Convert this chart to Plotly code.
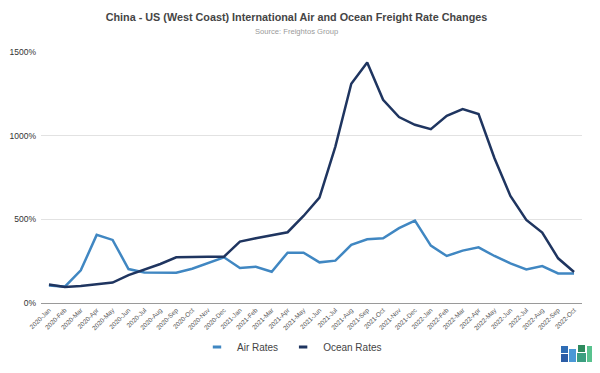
import plotly.graph_objects as go

months = ["2020-Jan", "2020-Feb", "2020-Mar", "2020-Apr", "2020-May", "2020-Jun",
          "2020-Jul", "2020-Aug", "2020-Sep", "2020-Oct", "2020-Nov", "2020-Dec",
          "2021-Jan", "2021-Feb", "2021-Mar", "2021-Apr", "2021-May", "2021-Jun",
          "2021-Jul", "2021-Aug", "2021-Sep", "2021-Oct", "2021-Nov", "2021-Dec",
          "2022-Jan", "2022-Feb", "2022-Mar", "2022-Apr", "2022-May", "2022-Jun",
          "2022-Jul", "2022-Aug", "2022-Sep", "2022-Oct"]

air_rates = [105, 98, 195, 407, 377, 203, 183, 183, 181, 205, 241, 273,
             209, 217, 187, 301, 301, 243, 253, 347, 381, 387, 447, 493,
             343, 281, 313, 333, 281, 237, 201, 221, 177, 177]

ocean_rates = [110, 96, 102, 112, 122, 167, 201, 233, 273, 277, 277, 277,
               367, 387, 403, 423, 520, 630, 935, 1310, 1437, 1214, 1111, 1065,
               1039, 1119, 1159, 1129, 865, 640, 496, 421, 267, 185]

y_ticks = [0, 500, 1000, 1500]
y_tick_labels = ["0%", "500%", "1000%", "1500%"]

AIR_COLOR = "#4087c2"
OCEAN_COLOR = "#1f3560"
FONT = "Liberation Sans, Arial, sans-serif"

fig = go.Figure()
fig.add_trace(go.Scatter(x=months, y=air_rates, mode="lines", name="Air Rates",
                         line=dict(color=AIR_COLOR, width=2.5), showlegend=False))
fig.add_trace(go.Scatter(x=months, y=ocean_rates, mode="lines", name="Ocean Rates",
                         line=dict(color=OCEAN_COLOR, width=2.5), showlegend=False))
# legend entries with short dash symbols
for name, col in [("Air Rates", AIR_COLOR), ("Ocean Rates", OCEAN_COLOR)]:
    fig.add_trace(go.Scatter(x=[None], y=[None], mode="markers", name=name,
                             marker=dict(symbol="line-ew", size=6,
                                         line=dict(color=col, width=3))))

# the page body adds an 8px offset, so the figure is drawn 8px smaller
OFF = 8
W, H = 600 - OFF, 373 - OFF
L, R, T, B = 33, 18, 44, 70
pw, ph = W - L - R, H - T - B

def px2paper(x, y):
    # screen pixel -> paper coordinates
    return (x - OFF - L) / pw, (H - B - (y - OFF)) / ph

logo_blocks = [
    (561, 346, 568, 353, "#2f6db5"),
    (561, 354, 568, 362, "#2c5da6"),
    (569, 349, 576, 362, "#4a98d6"),
    (577, 353, 586, 362, "#3b9e80"),
    (578, 345, 585, 352, "#2f8a5e"),
    (587, 346, 593, 362, "#58c28e"),
]
shapes = []
for x0, y0, x1, y1, c in logo_blocks:
    a0, b0 = px2paper(x0, y1)
    a1, b1 = px2paper(x1, y0)
    shapes.append(dict(type="rect", xref="paper", yref="paper", x0=a0, x1=a1,
                       y0=b0, y1=b1, fillcolor=c, line=dict(width=0)))

sx, sy = px2paper(296.5, 31)
lx, ly = px2paper(292, 347)

fig.update_layout(
    width=W, height=H,
    margin=dict(l=L, r=R, t=T, b=B, autoexpand=False),
    paper_bgcolor="white", plot_bgcolor="white",
    font=dict(family=FONT, color="#444"),
    title=dict(text="<b>China - US (West Coast) International Air and Ocean Freight Rate Changes</b>",
               x=(296.5 - OFF) / W, xref="container", y=1 - (17 - OFF) / H, yref="container",
               xanchor="center", yanchor="middle",
               font=dict(size=10.8, color="#454545", family=FONT)),
    annotations=[dict(text="Source: Freightos Group", xref="paper", yref="paper",
                      x=sx, y=sy, xanchor="center", yanchor="middle",
                      showarrow=False, font=dict(size=7.6, color="#9a9a9a", family=FONT))],
    xaxis=dict(type="category", range=[-0.5, len(months) - 0.5], showgrid=False,
               showline=True, linecolor="#9a9a9a", linewidth=1, ticks="",
               tickangle=-45, tickfont=dict(size=6.4, color="#555")),
    yaxis=dict(range=[0, 1500], tickvals=y_ticks, ticktext=y_tick_labels,
               showgrid=True, gridcolor="#e2e2e2", gridwidth=1, zeroline=False,
               ticks="", tickfont=dict(size=8.5, color="#333"), ticklabelstandoff=4),
    legend=dict(orientation="h", x=lx, xanchor="center", y=ly,
                yanchor="middle", font=dict(size=10, color="#444"),
                bgcolor="rgba(0,0,0,0)", itemwidth=30, tracegroupgap=0),
    shapes=shapes,
    showlegend=True,
)

fig.write_html("out.html")
